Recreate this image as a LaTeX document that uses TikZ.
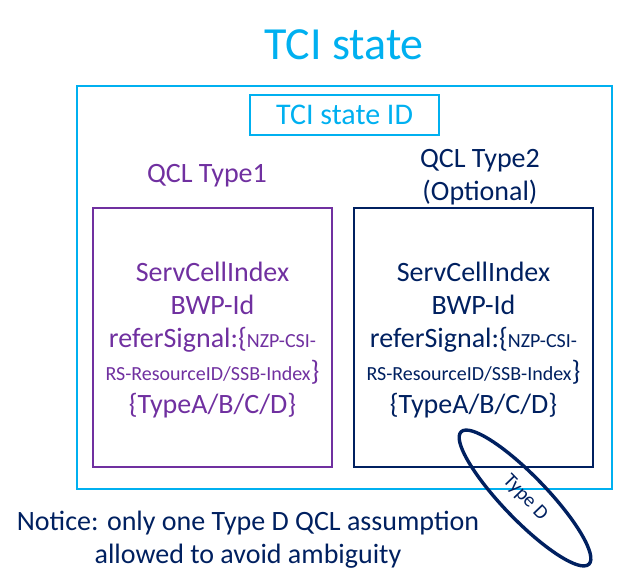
\documentclass[tikz,border=0pt]{standalone}
\usepackage{fontspec}
\setmainfont{Carlito}
\usetikzlibrary{positioning,shapes.geometric}
\definecolor{tciCyan}{RGB}{0,176,240}
\definecolor{tciPurple}{RGB}{112,48,160}
\definecolor{tciNavy}{RGB}{0,32,96}
\tikzset{
    base/.style={align=center, inner sep=0pt},
    frame/.style={rectangle, draw=tciCyan, line width=2.6pt},
    qclbox/.style={rectangle, line width=2.6pt, minimum width=239pt, minimum height=259pt},
    bigtext/.style={base, font=\fontsize{28}{33}\selectfont},
    field/.style={bigtext}
}
\newcommand{\smallsig}[1]{{\fontsize{20}{33}\selectfont #1}}

\begin{document}
\begin{tikzpicture}[x=1pt, y=-1pt]
  \useasboundingbox (0,0) rectangle (618,584);

  % outer frame and id
  \node[base, text=tciCyan, font=\fontsize{46}{50}\selectfont, anchor=base] (title) at (344,59) {TCI state};
  \node[frame, minimum width=535pt, minimum height=403pt] (outer) at (344.5,287.5) {};
  \node[frame, text=tciCyan, font=\fontsize{30}{34}\selectfont,
        minimum width=189pt, minimum height=40pt] (stateid) at (344.5,115) {TCI state ID};

  % the two QCL parts
  \node[bigtext, text=tciPurple, anchor=base] (qcl1) at (207,182) {QCL Type1};
  \node[bigtext, text=tciNavy] (qcl2) at (480,177) {QCL Type2\\(Optional)};
  \node[qclbox, draw=tciPurple] (box1) at (212.5,337.5) {};
  \node[qclbox, draw=tciNavy] (box2) at (473.5,337.5) {};
  \node[field, text=tciPurple] (info1) at (box1.center) [yshift=-3pt]
    {ServCellIndex\\BWP-Id\\referSignal:\{\smallsig{NZP-CSI-}\\\smallsig{RS-ResourceID/SSB-Index}\}\\\{TypeA/B/C/D\}};
  \node[field, text=tciNavy] (info2) at (box2.center) [yshift=-3pt]
    {ServCellIndex\\BWP-Id\\referSignal:\{\smallsig{NZP-CSI-}\\\smallsig{RS-ResourceID/SSB-Index}\}\\\{TypeA/B/C/D\}};

  % type D mark
  \node[ellipse, draw=tciNavy, line width=3.4pt, text=tciNavy, rotate=-46,
        minimum width=184pt, minimum height=44pt, font=\fontsize{20}{22}\selectfont] (typed) at (525,498) {Type D};

  \node[bigtext, text=tciNavy] (note) at (248,540)
    {Notice: only one Type D QCL assumption\\allowed to avoid ambiguity};
\end{tikzpicture}
\end{document}
